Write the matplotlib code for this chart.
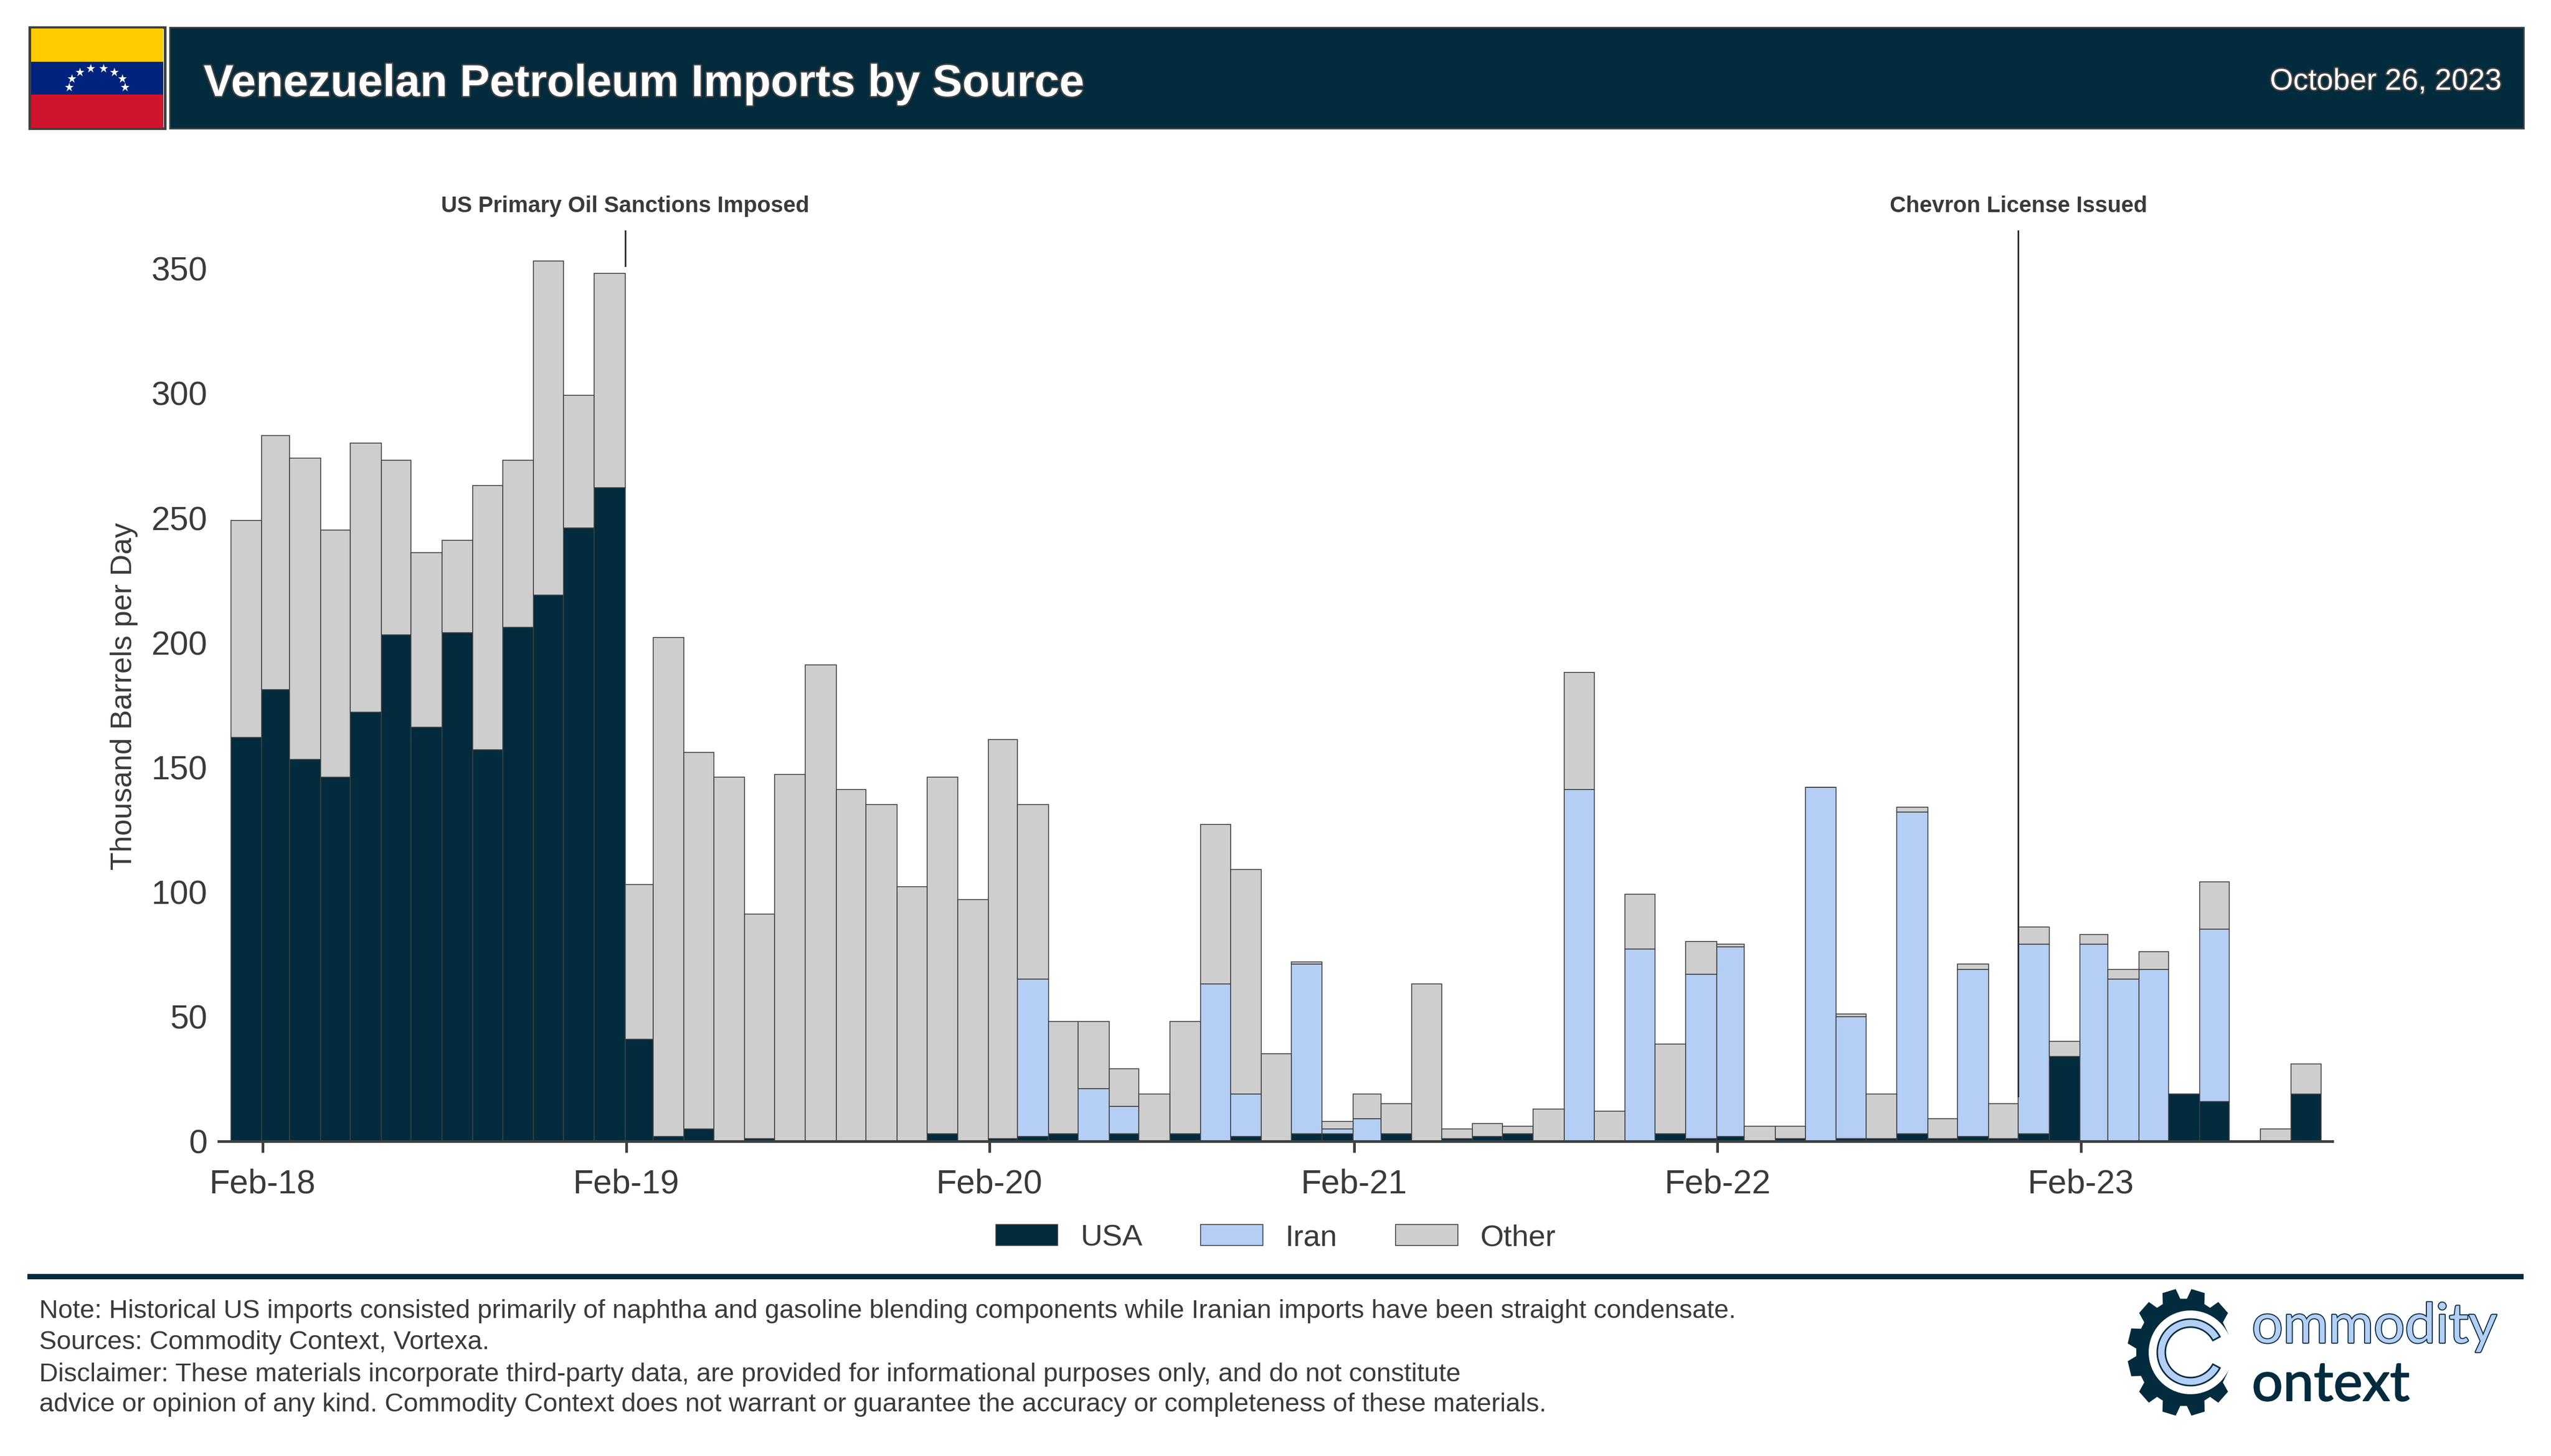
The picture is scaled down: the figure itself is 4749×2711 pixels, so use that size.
import numpy as np
import pandas as pd
import matplotlib
matplotlib.use("Agg")
import matplotlib.pyplot as plt
import matplotlib.dates as mdates
import matplotlib.patheffects as pe
from matplotlib.patches import Rectangle, Polygon

# Monthly imports, thousand barrels per day, Jan-18 to Sep-23
usa = [162, 181, 153, 146, 172, 203, 166, 204, 157, 206, 219, 246, 262,
       41, 2, 5, 0, 1, 0, 0, 0, 0, 0, 3, 0, 1, 2, 3, 0, 3, 0, 3, 0, 2, 0,
       3, 3, 0, 3, 0, 1, 2, 3, 0, 0, 0, 0, 3, 1, 2, 0, 1, 0, 1, 1, 3, 1,
       2, 1, 3, 34, 0, 0, 0, 19, 16, 0, 0, 19]
iran = [0, 0, 0, 0, 0, 0, 0, 0, 0, 0, 0, 0, 0,
        0, 0, 0, 0, 0, 0, 0, 0, 0, 0, 0, 0, 0, 63, 0, 21, 11, 0, 0, 63, 17, 0,
        68, 2, 9, 0, 0, 0, 0, 0, 0, 141, 0, 77, 0, 66, 76, 0, 0, 142, 49, 0, 129, 0,
        67, 0, 76, 0, 79, 65, 69, 0, 69, 0, 0, 0]
other = [87, 102, 121, 99, 108, 70, 70, 37, 106, 67, 134, 53, 86,
         62, 200, 151, 146, 90, 147, 191, 141, 135, 102, 143, 97, 160, 70, 45, 27, 15, 19, 45, 64, 90, 35,
         1, 3, 10, 12, 63, 4, 5, 3, 13, 47, 12, 22, 36, 13, 1, 6, 5, 0, 1, 18, 2, 8,
         2, 14, 7, 6, 4, 4, 7, 0, 19, 0, 5, 12]
series_names = ['USA', 'Iran', 'Other']
y_ticks = [0, 50, 100, 150, 200, 250, 300, 350]
x_tick_dates = ['2018-02-01', '2019-02-01', '2020-02-01', '2021-02-01', '2022-02-01', '2023-02-01']
events = [('US Primary Oil Sanctions Imposed', '2019-01-31', 351),
          ('Chevron License Issued', '2022-11-30', 18)]
footer_lines = [
    'Note: Historical US imports consisted primarily of naphtha and gasoline blending components while Iranian imports have been straight condensate.',
    'Sources: Commodity Context, Vortexa.',
    'Disclaimer: These materials incorporate third-party data, are provided for informational purposes only, and do not constitute',
    'advice or opinion of any kind. Commodity Context does not warrant or guarantee the accuracy or completeness of these materials.',
]

W, H = 4749, 2711
NAVY = '#022B3E'
BLUE = '#B4CEF6'
GREY = '#CECECE'
DARK = '#404040'
TEXT = '#3A3A3A'

plt.rcParams['font.family'] = ['Liberation Sans', 'DejaVu Sans']
fig = plt.figure(figsize=(W / 300, H / 300), dpi=300, facecolor='white')

# main axes, placed by pixel position
left, right, top, bottom = 407, 4342, 430, 2125
ax = fig.add_axes([left / W, 1 - bottom / H, (right - left) / W, (bottom - top) / H])

# each bar runs from the previous month end to its own month end
month_ends = pd.date_range('2017-12-31', periods=len(usa) + 1, freq='ME')
edges = mdates.date2num(month_ends)
x = edges[:-1]
widths = np.diff(edges)
usa = np.array(usa)
iran = np.array(iran)
other = np.array(other)

bar_style = dict(align='edge', edgecolor=DARK, linewidth=0.4)
ax.bar(x, usa, widths, color=NAVY, label=series_names[0], **bar_style)
ax.bar(x, iran, widths, bottom=usa, color=BLUE, label=series_names[1], **bar_style)
ax.bar(x, other, widths, bottom=usa + iran, color=GREY, label=series_names[2], **bar_style)

ax.set_xlim(mdates.date2num(pd.Timestamp('2017-12-18 18:00')), mdates.date2num(pd.Timestamp('2023-10-11 10:00')))
ax.set_ylim(0, 365)
ax.set_yticks(y_ticks)
ax.set_xticks(mdates.date2num(pd.to_datetime(x_tick_dates)))
ax.xaxis.set_major_formatter(mdates.DateFormatter('%b-%y'))
ax.tick_params(axis='y', length=0, pad=5, labelsize=15, labelcolor=TEXT)
ax.tick_params(axis='x', length=5, width=1.2, color=DARK, pad=7, labelsize=15, labelcolor=TEXT)
for side in ['top', 'left', 'right']:
    ax.spines[side].set_visible(False)
ax.spines['bottom'].set_linewidth(1.2)
ax.spines['bottom'].set_color(DARK)
ax.set_ylabel('Thousand Barrels per Day', fontsize=13.3, color=TEXT, labelpad=6, y=0.489)

for label, date, low in events:
    xd = mdates.date2num(pd.Timestamp(date))
    ax.plot([xd, xd], [low, 365], color='#303030', lw=0.75, clip_on=False, zorder=5)
    ax.text(xd, 375, label, ha='center', va='center', fontsize=10, fontweight='bold', color=TEXT)

fig.legend(loc='center', bbox_to_anchor=(2375 / W, 1 - 2305 / H), ncol=3, frameon=False,
           fontsize=13.5, handlelength=2.05, handletextpad=0.75, columnspacing=1.93,
           labelcolor=TEXT)

# overlay in pixel coordinates for header, footer and logo
ov = fig.add_axes([0, 0, 1, 1], facecolor='none')
ov.set_xlim(0, W)
ov.set_ylim(H, 0)
ov.axis('off')

ov.add_patch(Rectangle((316, 51), 4382, 188, facecolor=NAVY, edgecolor=DARK, linewidth=0.7))
ov.add_patch(Rectangle((55, 51), 252, 188, facecolor='white', edgecolor=DARK, linewidth=1.2))
ov.add_patch(Rectangle((58, 53), 246, 62, facecolor='#FFCC00', edgecolor='none'))
ov.add_patch(Rectangle((58, 115), 246, 61, facecolor='#00247D', edgecolor='none'))
ov.add_patch(Rectangle((58, 176), 246, 62, facecolor='#CF142B', edgecolor='none'))
star_angles = np.radians(np.linspace(0, 180, 8))
ov.plot(181 + 52 * np.cos(star_angles), 163 - 36 * np.sin(star_angles), ls='none', marker='*',
        ms=4.2, mfc='white', mec='white', mew=0)

outline = [pe.withStroke(linewidth=1.3, foreground=DARK)]
ov.text(379, 179, 'Venezuelan Petroleum Imports by Source', fontsize=20, fontweight='bold', color='white',
        ha='left', va='baseline', path_effects=outline)
ov.text(4656, 167, 'October 26, 2023', fontsize=13.4, color='white', ha='right', va='baseline', path_effects=outline)

ov.add_patch(Rectangle((51, 2372), 4647, 10, facecolor=NAVY, edgecolor='none'))
for line, y in zip(footer_lines, [2442, 2500, 2560, 2615]):
    ov.text(73, y, line, fontsize=11.67, color=TEXT, ha='left', va='center')

# logo: gear with a gap on the right, blue C inside, two words beside it
cx, cy = 4065, 2518
rx = 105 / 119
gear = []
for k in [15 + 30 * i for i in range(1, 11)]:
    for da, r in [(-11, 100), (-7, 119), (7, 119), (11, 100)]:
        gear.append((k + da, r))
gear = [(24, 100)] + gear + [(336, 100)]
pts = [(cx + r * rx * np.cos(np.radians(a)), cy - r * np.sin(np.radians(a))) for a, r in gear]
hole = np.radians(np.linspace(336, 24, 60))
pts += [(4078 + 78 * np.cos(a), cy - 78 * np.sin(a)) for a in hole]
ov.add_patch(Polygon(pts, closed=True, facecolor=NAVY, edgecolor='none'))

arc = np.radians(np.linspace(28, 332, 80))
c_outer = [(4078 + 62 * np.cos(a), cy - 62 * np.sin(a)) for a in arc]
c_inner = [(4078 + 47 * np.cos(a), cy - 47 * np.sin(a)) for a in arc[::-1]]
ov.add_patch(Polygon(c_outer + c_inner, closed=True, facecolor=BLUE, edgecolor=NAVY, linewidth=0.7))

ov.text(4192, 2500, 'ommodity', fontsize=24.6, family='Lato', color=BLUE, ha='left', va='baseline',
        path_effects=[pe.withStroke(linewidth=0.9, foreground=NAVY)])
ov.text(4192, 2608, 'ontext', fontsize=24.6, family='Lato', color=NAVY, ha='left', va='baseline',
        path_effects=[pe.withStroke(linewidth=0.5, foreground=NAVY)])

fig.savefig('out.png', dpi=300)
